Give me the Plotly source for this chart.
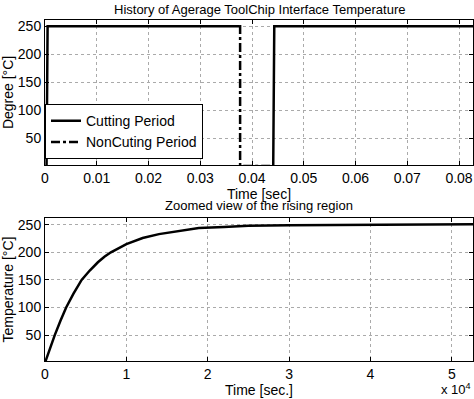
import plotly.graph_objects as go

# ---- data ----
cut_t = [0.0003, 0.0005, 0.0375, None, 0.0441, 0.0443, 0.0827]
cut_T = [0, 250, 250, None, 0, 250, 250]
noncut_t = [0.0375, 0.0377, 0.0377, 0.0441]
noncut_T = [250, 250, 0, 0]

zoom_t = [0, 600, 1200, 1900, 2600, 3500, 4500, 5500, 6500, 7300, 8100,
          10000, 12000, 14000, 16000, 18900, 22000, 25000, 30000, 40000, 52600]
zoom_T = [0, 26, 50, 76, 100, 125, 150, 167, 182, 192, 200,
          215, 226, 233, 238, 244, 246, 248, 249, 250, 251]

top_xticks = [0, 0.01, 0.02, 0.03, 0.04, 0.05, 0.06, 0.07, 0.08]
top_xlabels = ["0", "0.01", "0.02", "0.03", "0.04", "0.05", "0.06", "0.07", "0.08"]
yticks = [50, 100, 150, 200, 250]
bot_xticks = [0, 10000, 20000, 30000, 40000, 50000]
bot_xlabels = ["0", "1", "2", "3", "4", "5"]

FONT = "Liberation Sans, Arial, sans-serif"

fig = go.Figure()
fig.add_trace(go.Scatter(x=cut_t, y=cut_T, mode="lines", name="Cutting Period",
                         line=dict(color="black", width=2.5), xaxis="x", yaxis="y"))
fig.add_trace(go.Scatter(x=noncut_t, y=noncut_T, mode="lines", name="NonCuting Period",
                         line=dict(color="black", width=2.5, dash="dashdot"), xaxis="x", yaxis="y"))
fig.add_trace(go.Scatter(x=zoom_t, y=zoom_T, mode="lines", showlegend=False,
                         line=dict(color="black", width=2.5), xaxis="x2", yaxis="y2"))

axcommon = dict(showline=True, linecolor="black", linewidth=1, mirror="ticks",
                ticks="inside", ticklen=4, tickcolor="black", automargin=False,
                showgrid=True, gridcolor="#aaaaaa", griddash="dot", gridwidth=1,
                zeroline=False, tickfont=dict(size=14, color="black", family=FONT))

fig.update_layout(
    width=474, height=399,
    margin=dict(l=45, r=1, t=20, b=38),
    paper_bgcolor="white", plot_bgcolor="white",
    font=dict(family=FONT, color="black", size=14),
    xaxis=dict(domain=[0, 1], range=[0, 0.0827], tickvals=top_xticks, ticktext=top_xlabels,
               anchor="y", title=dict(text="Time [sec]", standoff=0, font=dict(size=14)), **axcommon),
    yaxis=dict(domain=[0.575, 1], range=[2, 261], tickvals=yticks, anchor="x",
               title=dict(text="Degree [°C]", standoff=0, font=dict(size=14)), **axcommon),
    xaxis2=dict(domain=[0, 1], range=[0, 52600], tickvals=bot_xticks, ticktext=bot_xlabels,
                anchor="y2", title=dict(text="Time [sec.]", standoff=0, font=dict(size=14)), **axcommon),
    yaxis2=dict(domain=[0, 0.419], range=[3, 262], tickvals=yticks, anchor="x2",
                title=dict(text="Temperature [°C]", standoff=0, font=dict(size=14)), **axcommon),
    legend=dict(x=0.0, y=0.592, xanchor="left", yanchor="bottom", bgcolor="white",
                bordercolor="black", borderwidth=1, font=dict(size=14, family=FONT),
                tracegroupgap=0, itemwidth=30),
    annotations=[
        dict(text="History of Agerage ToolChip Interface Temperature", x=0.5, y=1,
             xref="paper", yref="paper", xanchor="center", yanchor="bottom", yshift=1,
             showarrow=False, font=dict(size=13)),
        dict(text="Zoomed view of the rising region", x=0.5, y=0.419,
             xref="paper", yref="paper", xanchor="center", yanchor="bottom", yshift=3,
             showarrow=False, font=dict(size=13)),
        dict(text="x 10<sup>4</sup>", x=1, y=0, xref="paper", yref="paper",
             xanchor="right", yanchor="top", yshift=-18, xshift=0,
             showarrow=False, font=dict(size=13)),
    ],
)

fig.write_html("out.html", config={"displayModeBar": False},
               post_script="document.body.style.margin='0';")
